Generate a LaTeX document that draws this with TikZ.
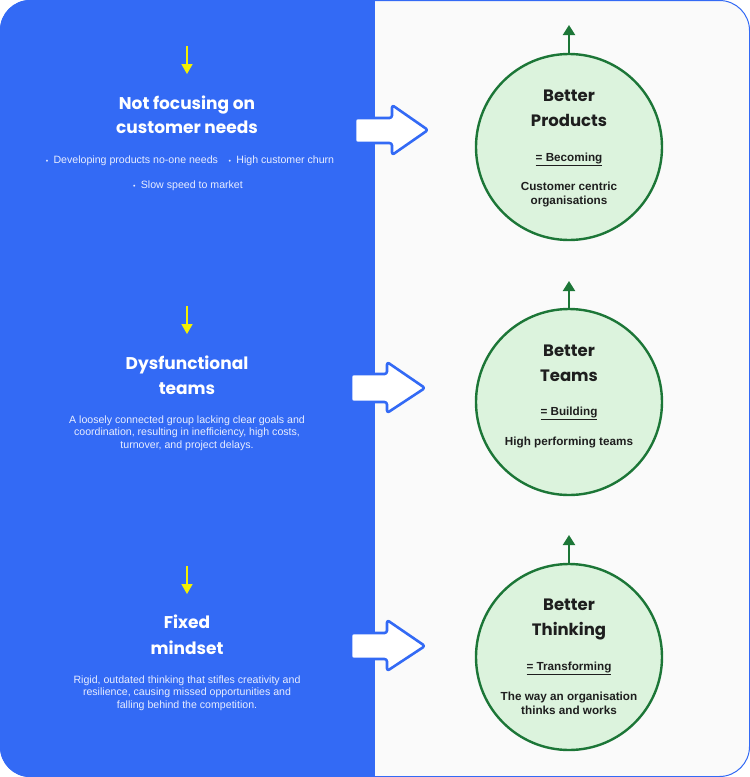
\documentclass[tikz,border=0pt]{standalone}
\usepackage{fontspec}
\setmainfont{Liberation Sans}
\newfontfamily\pop{Poppins}
\usetikzlibrary{arrows.meta}
\definecolor{panelblue}{HTML}{336AF5}
\definecolor{bggray}{HTML}{FAFAFA}
\definecolor{circfill}{HTML}{DCF3DD}
\definecolor{circline}{HTML}{1C7637}
\definecolor{yarrow}{HTML}{F4F000}
\definecolor{paratext}{HTML}{E8EDFF}
\definecolor{darktext}{HTML}{1E1E1E}
\tikzset{
  titletext/.style={anchor=base, text=white, inner sep=0pt, font=\pop\bfseries\fontsize{17}{20}\selectfont},
  paraline/.style={anchor=base, text=paratext, inner sep=0pt, font=\fontsize{10.6}{12}\selectfont},
  bulletline/.style={anchor=base, text=paratext, inner sep=0pt, font=\fontsize{10.6}{12}\selectfont},
  circhead/.style={anchor=base, text=darktext, inner sep=0pt, font=\pop\bfseries\fontsize{16.5}{20}\selectfont},
  circsub/.style={anchor=base, text=darktext, inner sep=0pt, font=\bfseries\fontsize{11.7}{13}\selectfont},
  goal/.style={circle, draw=circline, fill=circfill, line width=2.4pt, minimum size=186pt, inner sep=0pt},
  uparrow/.style={draw=circline, line width=2pt, -{Triangle[width=12pt,length=10pt]}},
  downarrow/.style={draw=yarrow, line width=1.5pt, -{Triangle[width=11pt,length=10pt]}},
  bigarrow/.style={draw=panelblue, fill=white, line width=2.6pt, rounded corners=2.5pt, line join=round},
}
\begin{document}
\begin{tikzpicture}[x=1pt,y=-1pt]
\useasboundingbox (0,0) rectangle (750,777);
% background frame
\fill[bggray, rounded corners=30pt] (0,0) rectangle (750,777);
\begin{scope}
  \clip[rounded corners=30pt] (0,0) rectangle (750,777);
  \fill[panelblue] (0,0) rectangle (375,777);
\end{scope}
\draw[panelblue, line width=1pt, rounded corners=30pt] (0.5,0.5) rectangle (749.5,776.5);

% big arrows
\draw[bigarrow] (355,118) -- (392,118) -- (392,105) -- (428,130) -- (392,155) -- (392,143) -- (355,143) -- cycle;
\draw[bigarrow] (351,374) -- (387,374) -- (387,362) -- (425,388) -- (387,413) -- (387,402) -- (351,402) -- cycle;
\draw[bigarrow] (351,633) -- (387,633) -- (387,620) -- (425,646) -- (387,671) -- (387,659) -- (351,659) -- cycle;

% ---------- section 1 ----------
\coordinate (y1s) at (187,46);
\coordinate (y1e) at (187,74);
\draw[downarrow] (y1s) -- (y1e);
\node[titletext] (t1a) at (187,109) {Not focusing on};
\node[titletext] (t1b) at (187,133.5) {customer needs};
\node[bulletline] (b1) at (190,163) {{\fontsize{7}{8}\selectfont\textbullet}\enspace Developing products no-one needs\quad {\fontsize{7}{8}\selectfont\textbullet}\enspace High customer churn};
\node[bulletline] (b2) at (188,188) {{\fontsize{7}{8}\selectfont\textbullet}\enspace Slow speed to market};

\node[goal] (c1) at (569,147) {};
\coordinate (g1) at (569,25);
\draw[uparrow] (c1.north) -- (g1);
\node[circhead] (c1a) at (569,101) {Better};
\node[circhead] (c1b) at (569,126) {Products};
\node[circsub] (c1c) at (569,161) {\underline{= Becoming}};
\node[circsub] (c1d) at (569,190) {Customer centric};
\node[circsub] (c1e) at (569,204.5) {organisations};

% ---------- section 2 ----------
\coordinate (y2s) at (187,306);
\coordinate (y2e) at (187,334);
\draw[downarrow] (y2s) -- (y2e);
\node[titletext] (t2a) at (187,369) {Dysfunctional};
\node[titletext] (t2b) at (187,394) {teams};
\node[paraline] (p2a) at (187,423) {A loosely connected group lacking clear goals and};
\node[paraline] (p2b) at (187,435.7) {coordination, resulting in inefficiency, high costs,};
\node[paraline] (p2c) at (187,448.4) {turnover, and project delays.};

\node[goal] (c2) at (569,402) {};
\coordinate (g2) at (569,281);
\draw[uparrow] (c2.north) -- (g2);
\node[circhead] (c2a) at (569,356) {Better};
\node[circhead] (c2b) at (569,381) {Teams};
\node[circsub] (c2c) at (569,415) {\underline{= Building}};
\node[circsub] (c2d) at (569,445) {High performing teams};

% ---------- section 3 ----------
\coordinate (y3s) at (187,566);
\coordinate (y3e) at (187,594);
\draw[downarrow] (y3s) -- (y3e);
\node[titletext] (t3a) at (187,628) {Fixed};
\node[titletext] (t3b) at (187,654) {mindset};
\node[paraline] (p3a) at (187,683) {Rigid, outdated thinking that stifles creativity and};
\node[paraline] (p3b) at (187,695.7) {resilience, causing missed opportunities and};
\node[paraline] (p3c) at (187,708.4) {falling behind the competition.};

\node[goal] (c3) at (569,657) {};
\coordinate (g3) at (569,535);
\draw[uparrow] (c3.north) -- (g3);
\node[circhead] (c3a) at (569,610) {Better};
\node[circhead] (c3b) at (569,635) {Thinking};
\node[circsub] (c3c) at (569,670) {\underline{= Transforming}};
\node[circsub] (c3d) at (569,700) {The way an organisation};
\node[circsub] (c3e) at (569,714.5) {thinks and works};
\end{tikzpicture}
\end{document}
